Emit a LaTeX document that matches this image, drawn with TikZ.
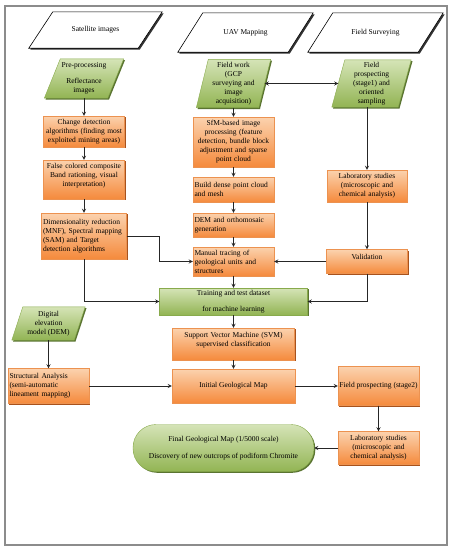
\documentclass[tikz,border=0pt]{standalone}
\usepackage{fontspec}
\setmainfont{Liberation Serif}
\usepackage{tikz}
\usetikzlibrary{shadows,backgrounds}
\usepackage{xcolor}
\definecolor{orange_top}{HTML}{FBD2AE}
\definecolor{orange_bot}{HTML}{F58A3C}
\definecolor{orange_line}{HTML}{EC9250}
\definecolor{orange_shadow}{HTML}{A8521C}
\definecolor{green_top}{HTML}{D5E4B7}
\definecolor{green_bot}{HTML}{92B453}
\definecolor{green_line}{HTML}{88AA4C}
\definecolor{green_shadow}{HTML}{5A7431}
\definecolor{frame_gray}{HTML}{8C8C8C}

\begin{document}
\begin{tikzpicture}[x=1pt,y=-1pt,>=stealth,
              every node/.style={font=\fontsize{7.5}{9}\selectfont, inner sep=1.5pt},
              obox/.style={rectangle, draw=orange_line, line width=0.4pt, top color=orange_top, bottom color=orange_bot,
                drop shadow={shadow xshift=1.3pt, shadow yshift=-1.3pt, fill=orange_shadow, opacity=1}},
              gbox/.style={draw=green_line, line width=0.4pt, top color=green_top, bottom color=green_bot, align=center,
                drop shadow={shadow xshift=1.3pt, shadow yshift=-1.3pt, fill=green_shadow, opacity=1}},
              ptext/.style={rectangle, align=center},
              wshape/.style={draw=black, line width=0.6pt, fill=white,
                drop shadow={shadow xshift=1.5pt, shadow yshift=-1.5pt, fill=black!80, opacity=1}},
              link/.style={->, line width=0.8pt, black!85}]
              \useasboundingbox (0,0) rectangle (451,550);
              \draw[frame_gray, line width=1.2pt] (5,6) rectangle (447,545);

              \node[ptext, minimum width=109pt, minimum height=36pt] (sat) at (95.5,30) {Satellite images};
              \node[ptext, minimum width=110pt, minimum height=39pt] (uav) at (245.5,32.5) {UAV Mapping};
              \node[ptext, minimum width=110pt, minimum height=39pt] (fsv) at (375.5,32.5) {Field Surveying};

              \node[ptext, minimum width=63pt, minimum height=39pt] (pre) at (84,78.5) {Pre-processing\\[7pt]Reflectance\\images};
              \node[ptext, minimum width=62pt, minimum height=48pt] (fw) at (233.5,83.5) {Field work\\(GCP\\surveying and\\image\\acquisition)};
              \node[ptext, minimum width=66pt, minimum height=47pt] (fp1) at (371.5,83.5) {Field\\prospecting\\(stage1) and\\oriented\\sampling};
              \node[ptext, minimum width=62pt, minimum height=33pt] (dem) at (48.5,323.5) {Digital\\elevation\\model (DEM)};

              \node[obox, align=center, text width=78pt, minimum height=31pt] (chg) at (84,131.5) {Change detection\\algorithms (finding most\\exploited mining areas)};
              \node[obox, align=center, text width=78pt, minimum height=39pt] (fcc) at (84,179.5) {False colored composite\\Band rationing, visual\\interpretation)\\~};
              \node[obox, align=left, text width=82pt, minimum height=46pt] (dim) at (84,236) {Dimensionality reduction\\(MNF), Spectral mapping\\(SAM) and Target\\detection algorithms};

              \node[obox, align=center, text width=78pt, minimum height=50pt] (sfm) at (233.5,142) {SfM-based image\\processing (feature\\detection, bundle block\\adjustment and sparse\\point cloud};
              \node[obox, align=left, text width=78pt, minimum height=25pt] (dpc) at (233.5,189.5) {Build dense point cloud\\and mesh};
              \node[obox, align=left, text width=78pt, minimum height=24pt] (dom) at (233.5,225) {DEM and orthomosaic\\generation};
              \node[obox, align=left, text width=78pt, minimum height=29pt] (man) at (233.5,261.5) {Manual tracing of\\geological units and\\structures};

              \node[obox, align=center, text width=77pt, minimum height=32pt] (lab) at (367,186) {Laboratory studies\\(microscopic and\\chemical analysis)};
              \node[obox, align=center, text width=78pt, minimum height=24pt] (val) at (367,261.5) {Validation\\~};

              \node[gbox, rectangle, minimum width=148pt, minimum height=27pt] (train) at (233.5,301.5) {Training and test dataset\\[7pt]for machine learning};
              \node[obox, align=center, text width=119pt, minimum height=32pt] (svm) at (233.5,344) {Support Vector Machine (SVM)\\supervised classification\\~};
              \node[obox, align=center, minimum width=123pt, minimum height=34pt] (init) at (233.5,386) {Initial Geological Map};

              \node[obox, align=left, text width=78pt, minimum height=35pt] (struct) at (48.5,386) {Structural Analysis\\(semi-automatic\\lineament mapping)};

              \node[obox, align=center, minimum width=81pt, minimum height=39pt, inner xsep=0.5pt] (fp2) at (378.5,386) {Field prospecting (stage2)};
              \node[obox, align=center, text width=78pt, minimum height=33pt] (lab2) at (378.5,448) {Laboratory studies\\(microscopic and\\chemical analysis)};
              \node[gbox, rectangle, rounded corners=23pt, minimum width=181pt, minimum height=47pt] (final) at (223.5,448) {Final Geological Map (1/5000 scale)\\[8pt]Discovery of new outcrops of podiform Chromite};

              \begin{scope}[on background layer]
                \foreach \n/\h in {sat/12, uav/12.5, fsv/12.5}
                  \path[wshape] ([xshift=\h pt]\n.north west) -- ([xshift=\h pt]\n.north east)
                    -- ([xshift=-\h pt]\n.south east) -- ([xshift=-\h pt]\n.south west) -- cycle;
                \foreach \n/\h in {pre/8, fw/6, fp1/6.5, dem/5.5}
                  \path[gbox] ([xshift=\h pt]\n.north west) -- ([xshift=\h pt]\n.north east)
                    -- ([xshift=-\h pt]\n.south east) -- ([xshift=-\h pt]\n.south west) -- cycle;
              \end{scope}

              \draw[link] (pre) -- (chg);
              \draw[link] (chg) -- (fcc);
              \draw[link] (fcc) -- (dim);
              \draw[link] (dim.east) -- ++(33,0) |- (man);
              \draw[link] (dim) |- (train);
              \draw[link] (fw) -- (sfm);
              \draw[link] (sfm) -- (dpc);
              \draw[link] (dpc) -- (dom);
              \draw[link] (dom) -- (man);
              \draw[link] (man) -- (train);
              \draw[link, <->] (fw) -- (fp1);
              \draw[link] (lab |- fp1.south) -- (lab);
              \draw[link] (lab) -- (val);
              \draw[link] (val) -- (man);
              \draw[link] (val) |- (train);
              \draw[link] (train) -- (svm);
              \draw[link] (svm) -- (init);
              \draw[link] (dem) -- (struct);
              \draw[link] (struct) -- (init);
              \draw[link] (init) -- (fp2);
              \draw[link] (fp2) -- (lab2);
              \draw[link] (lab2) -- (final);
          \end{tikzpicture}
\end{document}
